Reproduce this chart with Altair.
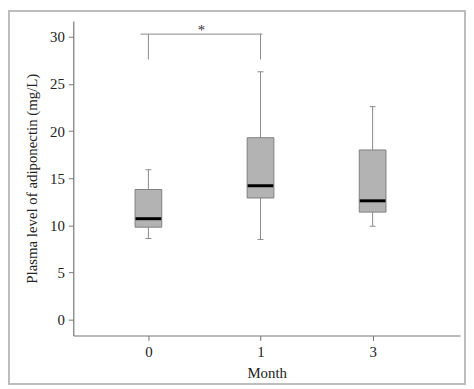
import altair as alt
import pandas as pd

months = ["0", "1", "3"]
lower = [8.6, 8.5, 9.9]
q1 = [9.8, 12.9, 11.4]
median = [10.7, 14.2, 12.6]
q3 = [13.8, 19.3, 18.0]
upper = [15.9, 26.3, 22.6]

bracket_from = "0"
bracket_to = "1"
bracket_top = 30.3
bracket_bottom = 27.6
bracket_label = "*"

df = pd.DataFrame({
    "month": months,
    "idx": list(range(len(months))),
    "lower": lower, "q1": q1, "median": median, "q3": q3, "upper": upper,
})

i0 = months.index(bracket_from)
i1 = months.index(bracket_to)
br_h = pd.DataFrame({"a": [i0], "b": [i1], "y": [bracket_top]})
br_v = pd.DataFrame({"x": [i0, i1], "y": [bracket_bottom] * 2, "y2": [bracket_top] * 2,
                     "off": [-8, 2]})
star = pd.DataFrame({"x": [(i0 + i1) / 2], "y": [bracket_top], "t": [bracket_label]})

FONT = "Liberation Serif"
label_expr = "[" + ",".join(f"'{m}'" for m in months) + "][datum.value]"

xscale = alt.Scale(domain=[-0.67, 2.78], nice=False, zero=False)
yscale = alt.Scale(domain=[-1.7, 31.7], nice=False, zero=False)

xenc = alt.X("idx:Q", scale=xscale,
             axis=alt.Axis(values=list(range(len(months))), labelExpr=label_expr,
                           title="Month", grid=False, tickSize=5, labelPadding=4,
                           titlePadding=6))
yenc = alt.Y("lower:Q", scale=yscale,
             axis=alt.Axis(values=[0, 5, 10, 15, 20, 25, 30], title="Plasma level of adiponectin (mg/L)",
                           grid=False, tickSize=5, labelPadding=4, titlePadding=10))

base = alt.Chart(df)
GRAY = "#8a8a8a"

whisker = base.mark_rule(color=GRAY, strokeWidth=1).encode(x=xenc, y=yenc, y2="upper:Q")
cap_lo = base.mark_rule(color=GRAY, strokeWidth=1, xOffset=-3, x2Offset=3).encode(
    x="idx:Q", x2="idx:Q", y="lower:Q")
cap_hi = base.mark_rule(color=GRAY, strokeWidth=1, xOffset=-3, x2Offset=3).encode(
    x="idx:Q", x2="idx:Q", y="upper:Q")
box = base.mark_rect(fill="#b3b3b3", stroke="#7f7f7f", strokeWidth=1,
                     xOffset=-13.5, x2Offset=13.5).encode(
    x="idx:Q", x2="idx:Q", y="q1:Q", y2="q3:Q")
med = base.mark_rule(color="#000000", strokeWidth=3, xOffset=-13, x2Offset=13).encode(
    x="idx:Q", x2="idx:Q", y="median:Q")

bh = alt.Chart(br_h).mark_rule(color=GRAY, strokeWidth=1, xOffset=-8, x2Offset=2).encode(
    x="a:Q", x2="b:Q", y="y:Q")
bv = alt.Chart(br_v).mark_rule(color=GRAY, strokeWidth=1).encode(
    x="x:Q", y="y:Q", y2="y2:Q", xOffset=alt.XOffset("off:Q", scale=None))
st = alt.Chart(star).mark_text(font=FONT, fontSize=15, baseline="bottom", dy=4, dx=-3,
                               color="#333333").encode(
    x="x:Q", y="y:Q", text="t:N")

frame = alt.Chart(df).mark_rect(fill=None, stroke="#bdbdbd", strokeWidth=2).encode(
    x=alt.value(-65), x2=alt.value(396), y=alt.value(-10), y2=alt.value(367))

chart = alt.layer(frame, whisker, cap_lo, cap_hi, box, med, bh, bv, st).properties(
    width=391, height=318,
    autosize=alt.AutoSizeParams(type="none"),
    padding={"left": 66, "top": 11, "right": 6, "bottom": 50},
).configure_view(stroke=None).configure_axis(
    domainColor="#777777", tickColor="#777777", labelFont=FONT, titleFont=FONT,
    labelFontSize=15, titleFontSize=15, labelColor="#222222", titleColor="#222222",
    titleFontWeight="normal", domainWidth=1.2,
)

chart.save("out.html", embed_options={"renderer": "svg", "actions": False})
